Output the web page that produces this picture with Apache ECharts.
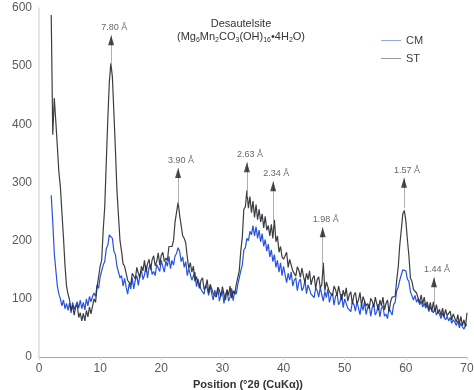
<!DOCTYPE html>
<html>
<head>
<meta charset="utf-8">
<script src="https://cdn.jsdelivr.net/npm/echarts@6/dist/echarts.min.js"></script>
<style>
html,body{margin:0;padding:0;background:#fff;}
#chart{width:474px;height:390px;}
</style>
</head>
<body>
<div id="chart"></div>
<script>
// XRD scan: start angle and step (°2θ), counts
const thetaStart = 2.0;
const thetaStep = 0.25;

const stCounts = [
  588, 382, 445, 405,
  362, 318, 292, 248,
  206, 158, 122, 108,
  98, 80, 89, 72,
  86, 90, 68, 76,
  62, 75, 62, 80,
  69, 86, 74, 87,
  100, 94, 120, 118,
  156, 166, 218, 258,
  334, 408, 472, 505,
  482, 420, 356, 286,
  242, 200, 182, 160,
  156, 155, 132, 134,
  124, 144, 142, 134,
  154, 144, 136, 156,
  148, 166, 146, 160,
  168, 150, 167, 174,
  157, 164, 179, 158,
  175, 180, 164, 170,
  166, 190, 192, 190,
  200, 232, 230, 266,
  244, 244, 208, 204,
  196, 172, 152, 162,
  146, 156, 130, 138,
  140, 118, 132, 136,
  116, 120, 133, 110,
  125, 128, 109, 112,
  103, 120, 115, 104,
  121, 108, 98, 116,
  106, 122, 101, 114,
  108, 124, 122, 148,
  182, 206, 254, 258,
  286, 256, 276, 248,
  268, 240, 262, 236,
  254, 232, 246, 222,
  242, 218, 226, 208,
  228, 204, 236, 198,
  208, 180, 190, 172,
  168, 170, 180, 154,
  168, 169, 148, 149,
  139, 155, 149, 137,
  153, 139, 128, 144,
  133, 148, 124, 135,
  140, 118, 133, 138,
  119, 124, 162, 114,
  129, 131, 112, 114,
  105, 122, 116, 105,
  122, 109, 98, 115,
  104, 119, 96, 107,
  112, 91, 106, 111,
  92, 98, 111, 88,
  104, 107, 88, 92,
  83, 101, 96, 86,
  103, 91, 80, 98,
  88, 103, 81, 92,
  98, 78, 95, 103,
  102, 104, 132, 154,
  192, 218, 246, 252,
  234, 202, 174, 136,
  130, 116, 114, 110,
  110, 93, 107, 91,
  103, 87, 95, 81,
  94, 78, 95, 78,
  90, 75, 82, 71,
  84, 69, 82, 71,
  68, 79, 64, 74,
  73, 60, 73, 56,
  70, 54, 64, 52,
  76
];

const cmCounts = [
  278, 232, 178, 150,
  122, 108, 100, 88,
  98, 83, 92, 80,
  93, 76, 94, 82,
  79, 95, 84, 98,
  83, 94, 81, 100,
  88, 104, 95, 104,
  110, 104, 124, 118,
  138, 136, 158, 164,
  186, 192, 210, 208,
  204, 182, 176, 156,
  154, 136, 140, 122,
  135, 120, 108, 126,
  117, 136, 117, 132,
  140, 123, 141, 149,
  133, 141, 157, 136,
  154, 159, 142, 147,
  140, 159, 156, 147,
  166, 155, 146, 165,
  156, 173, 152, 166,
  158, 174, 178, 188,
  182, 164, 172, 154,
  164, 140, 152, 154,
  132, 135, 146, 121,
  134, 136, 116, 118,
  108, 124, 118, 106,
  122, 109, 98, 115,
  104, 119, 96, 107,
  113, 92, 108, 114,
  96, 103, 118, 97,
  113, 108, 124, 124,
  148, 158, 184, 188,
  204, 200, 216, 210,
  226, 208, 224, 204,
  218, 198, 212, 190,
  202, 182, 194, 172,
  184, 164, 176, 154,
  166, 146, 162, 140,
  156, 141, 128, 144,
  132, 146, 122, 132,
  136, 114, 129, 134,
  114, 119, 132, 109,
  124, 127, 108, 111,
  102, 119, 114, 103,
  120, 107, 96, 113,
  102, 117, 94, 105,
  110, 89, 104, 109,
  90, 95, 108, 85,
  100, 103, 84, 87,
  78, 95, 90, 79,
  96, 84, 73, 91,
  80, 96, 73, 85,
  90, 70, 85, 91,
  72, 78, 91, 69,
  84, 88, 70, 74,
  66, 84, 81, 72,
  90, 94, 114, 120,
  132, 134, 150, 148,
  148, 134, 130, 112,
  114, 98, 106, 94,
  100, 90, 96, 86,
  92, 84, 90, 78,
  86, 80, 76, 84,
  72, 78, 74, 66,
  76, 68, 64, 70,
  62, 68, 58, 64,
  60, 54, 62, 50,
  58, 52, 48, 54,
  56
];

// Peak annotations (d-spacings)
const annLabels = ['7.80 Å', '3.90 Å', '2.63 Å', '2.34 Å', '1.98 Å', '1.57 Å', '1.44 Å'];
const annX = [11.8, 22.75, 34.0, 38.3, 46.4, 59.7, 64.6];
const annTip = [553, 325, 335, 302, 223, 308, 137];
const annBase = [505, 262, 275, 228, 160, 256, 92];

const xTicks = [0, 70, 10];
const yTicks = [0, 600, 100];

function toPairs(counts) {
  return counts.map((c, i) => [thetaStart + i * thetaStep, c]);
}

const font = 'Liberation Sans, Arial, sans-serif';
const chart = echarts.init(document.getElementById('chart'), null, {renderer: 'canvas'});

const option = {
  animation: false,
  backgroundColor: '#fff',
  textStyle: {fontFamily: font},
  grid: {left: 39, right: 7, top: 8, bottom: 33, containLabel: false, outerBoundsMode: 'none'},
  title: {
    text: 'Desautelsite',
    subtext: '{n|(Mg}{s|6}{n|Mn}{s|2}{n|CO}{s|3}{n|(OH)}{s|16}{n|•4H}{s|2}{n|O)}',
    left: 236,
    top: 13,
    textAlign: 'center',
    itemGap: 1,
    textStyle: {fontSize: 11, fontWeight: 'normal', color: '#333', fontFamily: font},
    subtextStyle: {
      color: '#333',
      fontFamily: font,
      rich: {
        n: {fontSize: 11, color: '#333', fontFamily: font, lineHeight: 14},
        s: {fontSize: 7, color: '#333', fontFamily: font, lineHeight: 14, padding: [6, 0, 0, 0]}
      }
    }
  },
  legend: {
    orient: 'vertical',
    left: 376,
    top: 30,
    itemWidth: 20,
    itemHeight: 8,
    itemGap: 7,
    textStyle: {fontSize: 11, color: '#404040', fontFamily: font},
    data: [
      {name: 'CM', icon: 'path://M0,4L20,4L20,5L0,5Z', itemStyle: {color: '#8cabdf'}},
      {name: 'ST', icon: 'path://M0,4L20,4L20,5L0,5Z', itemStyle: {color: '#9a9a9a'}}
    ]
  },
  xAxis: [{
    type: 'value',
    min: xTicks[0], max: xTicks[1], interval: xTicks[2],
    name: 'Position (°2θ (CuKα))',
    nameLocation: 'middle',
    nameGap: 22,
    nameTextStyle: {fontSize: 11, fontWeight: 'bold', color: '#333', fontFamily: font, padding: [0, 10, 0, 0]},
    axisLine: {show: true, lineStyle: {color: '#d9d9d9', width: 1}},
    axisTick: {show: true, length: 3, lineStyle: {color: '#d9d9d9'}},
    axisLabel: {fontSize: 12, color: '#595959', margin: 6, fontFamily: font},
    splitLine: {show: false}
  }, {
    type: 'value', position: 'top',
    min: xTicks[0], max: xTicks[1],
    axisLine: {show: true, lineStyle: {color: '#a6a6a6', width: 1.2}},
    axisTick: {show: false}, axisLabel: {show: false}, splitLine: {show: false}
  }],
  yAxis: [{
    type: 'value',
    min: yTicks[0], max: yTicks[1], interval: yTicks[2],
    name: 'Counts',
    nameLocation: 'middle',
    nameGap: 32,
    nameTextStyle: {fontSize: 11, fontWeight: 'bold', color: '#333', fontFamily: font},
    axisLine: {show: false},
    axisTick: {show: false},
    axisLabel: {fontSize: 12, color: '#595959', margin: 7, fontFamily: font},
    splitLine: {show: false}
  }, {
    type: 'value', position: 'right',
    min: yTicks[0], max: yTicks[1],
    axisLine: {show: true, lineStyle: {color: '#dcdcdc', width: 1.5}},
    axisTick: {show: false}, axisLabel: {show: false}, splitLine: {show: false}
  }],
  series: [
    {
      name: 'CM',
      type: 'line',
      symbol: 'none',
      data: toPairs(cmCounts),
      lineStyle: {color: '#2752e0', width: 1.2},
      itemStyle: {color: '#8cabdf'},
      z: 2
    },
    {
      name: 'ST',
      type: 'line',
      symbol: 'none',
      data: toPairs(stCounts),
      lineStyle: {color: '#2a2d33', width: 1.2, opacity: 0.92},
      itemStyle: {color: '#9a9a9a'},
      z: 3
    },
    {
      name: 'peaks',
      type: 'scatter',
      symbol: 'triangle',
      symbolSize: [6, 10],
      symbolOffset: [0, 5],
      itemStyle: {color: '#1e1e1e'},
      z: 5,
      data: annX.map((x, i) => ({
        value: [x, annTip[i]],
        label: {
          show: true,
          position: 'top',
          distance: 3,
          formatter: annLabels[i],
          fontSize: 9,
          color: '#404040',
          fontFamily: font,
          offset: [3, 0]
        }
      })),
      markLine: {
        silent: true,
        symbol: 'none',
        label: {show: false},
        lineStyle: {color: '#9a9a9a', width: 0.8, type: 'solid'},
        data: annX.map((x, i) => [
          {coord: [x, annBase[i]]},
          {coord: [x, annTip[i]]}
        ])
      }
    }
  ]
};
chart.setOption(option);
</script>
</body>
</html>
